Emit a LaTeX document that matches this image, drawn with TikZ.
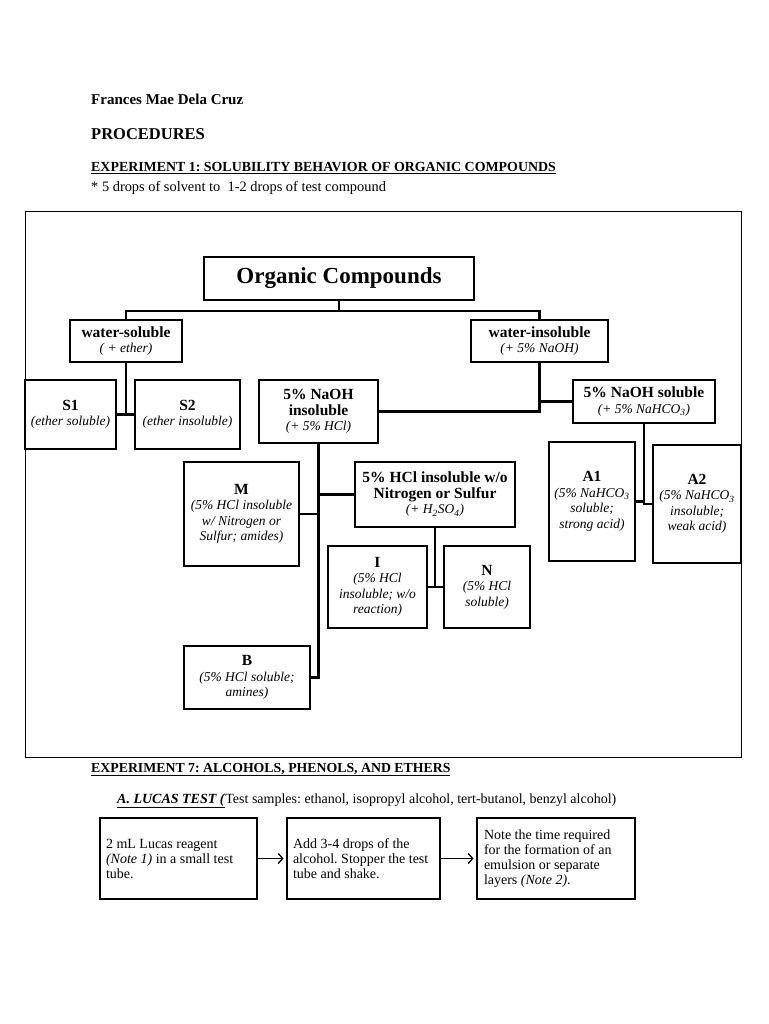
\documentclass[tikz,border=0pt]{standalone}
\usepackage{fontspec}
\setmainfont{Liberation Serif}
\usetikzlibrary{arrows.meta}
\newcommand\bxt[1]{{\fontsize{15.5}{15.5}\selectfont\bfseries\upshape #1}}
\frenchspacing
\begin{document}
\begin{tikzpicture}[x=1pt,y=-1pt,
  bx/.style={draw, line width=2.8pt, align=center, inner sep=0pt, font=\fontsize{13.5}{15.5}\selectfont\itshape},
  lbx/.style={draw, line width=2.8pt, align=flush left, inner sep=0pt, font=\fontsize{14}{15}\selectfont},
  conn/.style={line width=2.5pt},
  arr/.style={line width=1.3pt, -{Straight Barb[length=4.5pt,width=10pt]}, shorten >=2pt},
  hd/.style={anchor=base west, inner sep=0pt}]
\useasboundingbox (0,0) rectangle (768,1024);
% header
\node[hd, font=\fontsize{15}{17}\selectfont\bfseries] (name) at (91,105) {Frances Mae Dela Cruz};
\node[hd, font=\fontsize{16.5}{20}\selectfont\bfseries] (proc) at (91,140) {PROCEDURES};
\node[hd, font=\fontsize{13.9}{16}\selectfont\bfseries] (exp1) at (91,172) {\underline{EXPERIMENT 1: SOLUBILITY BEHAVIOR OF ORGANIC COMPOUNDS}};
\node[hd, font=\fontsize{14.4}{15}\selectfont] (note) at (91,192) {* 5 drops of solvent to\ \ 1-2 drops of test compound};
% frame
\draw[line width=0.9pt] (25,211) rectangle (741,757);
% boxes
\node[bx, minimum width=270pt, minimum height=43pt, font=\fontsize{23}{25}\selectfont\bfseries] (oc) at (339,278.5) {Organic Compounds};
\node[bx, minimum width=112pt, minimum height=42pt] (ws) at (126,341) {\bxt{water-soluble}\\( + ether)};
\node[bx, minimum width=137pt, minimum height=42pt] (wi) at (539.5,341) {\bxt{water-insoluble}\\(+ 5\% NaOH)};
\node[bx, minimum width=91pt, minimum height=69pt] (s1) at (70.5,414.5) {\bxt{S1}\\(ether soluble)};
\node[bx, minimum width=105pt, minimum height=69pt] (s2) at (187.5,414.5) {\bxt{S2}\\(ether insoluble)};
\node[bx, minimum width=119pt, minimum height=63pt] (ni) at (318.5,411.5) {\bxt{5\% NaOH}\\\bxt{insoluble}\\(+ 5\% HCl)};
\node[bx, minimum width=142pt, minimum height=43pt] (ns) at (644,401.5) {\bxt{5\% NaOH soluble}\\(+ 5\% NaHCO\textsubscript{3})};
\node[bx, minimum width=86pt, minimum height=119pt] (a1) at (592,501.5) {\bxt{A1}\\(5\% NaHCO\textsubscript{3}\\soluble;\\strong acid)};
\node[bx, minimum width=88pt, minimum height=118pt] (a2) at (697,504) {\bxt{A2}\\(5\% NaHCO\textsubscript{3}\\insoluble;\\weak acid)};
\node[bx, minimum width=115pt, minimum height=104pt] (m) at (241.5,514) {\bxt{M}\\(5\% HCl insoluble\\w/ Nitrogen or\\Sulfur; amides)};
\node[bx, minimum width=160pt, minimum height=65pt] (h) at (435,494.5) {\bxt{5\% HCl insoluble w/o}\\\bxt{Nitrogen or Sulfur}\\(+ H\textsubscript{2}SO\textsubscript{4})};
\node[bx, minimum width=99pt, minimum height=82pt] (i) at (377.5,587) {\bxt{I}\\(5\% HCl\\insoluble; w/o\\reaction)};
\node[bx, minimum width=86pt, minimum height=82pt] (n) at (487,587) {\bxt{N}\\(5\% HCl\\soluble)};
\node[bx, minimum width=126pt, minimum height=63pt] (b) at (247,677.5) {\bxt{B}\\(5\% HCl soluble;\\amines)};
% connectors
\coordinate (top) at (339,311);
\draw[conn] (oc.south) -- (top);
\draw[conn] (ws.north) |- (top) -| (wi.north);
\draw[conn] (ws.south) -- (ws.south |- s1.east);
\draw[conn] (s1.east) -- (s2.west);
\draw[conn] (wi.south) |- (ni.east);
\draw[conn] (wi.south |- ns.west) -- (ns.west);
\draw[conn] (ns.south) -- (ns.south |- a1.east) -- (a1.east);
\draw[conn] (ns.south |- a1.east) |- (a2.west);
\draw[conn] (ni.south) |- (b.east);
\draw[conn] (m.east) -- (m.east -| ni.south);
\draw[conn] (h.west) -- (h.west -| ni.south);
\draw[conn] (h.south) -- (h.south |- i.east);
\draw[conn] (i.east) -- (n.west);
% experiment 7
\node[hd, font=\fontsize{13.8}{16}\selectfont\bfseries] (exp7) at (91,772) {\underline{EXPERIMENT 7: ALCOHOLS, PHENOLS, AND ETHERS}};
\node[hd, font=\fontsize{14}{16}\selectfont] (lucas) at (117,803) {\underline{\textbf{\textit{A. LUCAS TEST (}}}Test samples: ethanol, isopropyl alcohol, tert-butanol, benzyl alcohol)};
\node[lbx, minimum width=157pt, minimum height=81pt, text width=145pt] (l1) at (178.5,858.5) {2 mL Lucas reagent\\\textit{(Note 1)} in a small test\\tube.};
\node[lbx, minimum width=153pt, minimum height=81pt, text width=141pt] (l2) at (363.5,858.5) {Add 3-4 drops of the\\alcohol. Stopper the test\\tube and shake.};
\node[lbx, minimum width=158pt, minimum height=81pt, text width=144pt] (l3) at (556,858.5) {Note the time required\\for the formation of an\\emulsion or separate\\layers \textit{(Note 2)}.};
\draw[arr] (l1.east) -- (l2.west);
\draw[arr] (l2.east) -- (l3.west);
\end{tikzpicture}
\end{document}
